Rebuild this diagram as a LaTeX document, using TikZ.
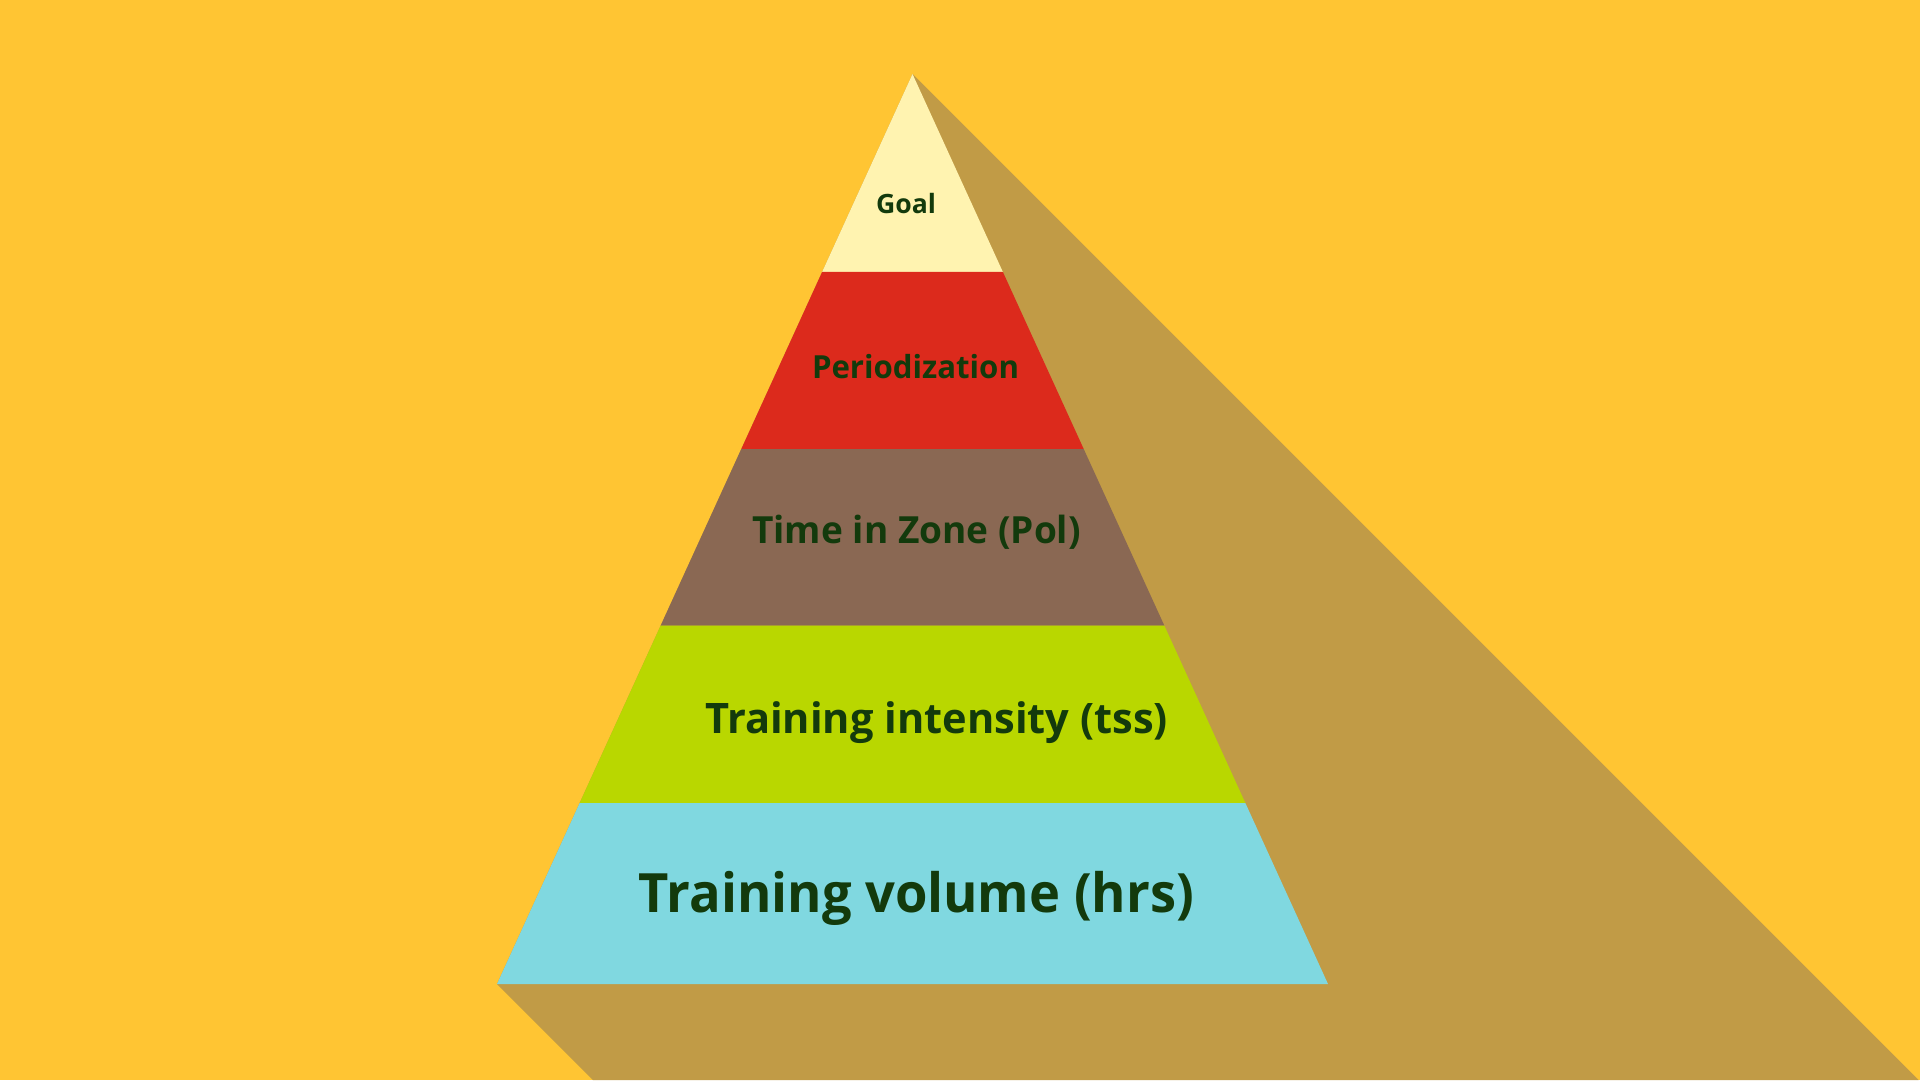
\documentclass[tikz,border=0pt]{standalone}
\usepackage{fontspec}
\setmainfont{Open Sans}
\usetikzlibrary{calc}
\definecolor{bg}{HTML}{FFC533}
\definecolor{shadowc}{HTML}{C19B46}
\definecolor{goalc}{HTML}{FFF3B0}
\definecolor{redc}{HTML}{DC2A1C}
\definecolor{brownc}{HTML}{8A6853}
\definecolor{greenc}{HTML}{B9D700}
\definecolor{cyanc}{HTML}{80D8E0}
\definecolor{txt}{HTML}{133A0C}
\tikzset{
  lbl/.style={anchor=base, inner sep=0pt, text=txt, font=\bfseries}
}
\begin{document}
\begin{tikzpicture}[x=1pt,y=-1pt]
\useasboundingbox (0,0) rectangle (1920,1080);
\fill[bg] (0,0) rectangle (1920,1080);
\coordinate (A) at (912.5,74);
\coordinate (BL) at (497,984);
\coordinate (BR) at (1328,984);
\begin{scope}
\clip (0,0) rectangle (1920,1080);
\fill[shadowc] (A) -- (1918.5,1080) -- (593,1080) -- (BL) -- cycle;
\end{scope}
\coordinate (L1) at ($(A)!0.2173!(BL)$);
\coordinate (R1) at ($(A)!0.2173!(BR)$);
\coordinate (L2) at ($(A)!0.4121!(BL)$);
\coordinate (R2) at ($(A)!0.4121!(BR)$);
\coordinate (L3) at ($(A)!0.6063!(BL)$);
\coordinate (R3) at ($(A)!0.6063!(BR)$);
\coordinate (L4) at ($(A)!0.8011!(BL)$);
\coordinate (R4) at ($(A)!0.8011!(BR)$);
\fill[goalc] (A) -- (R1) -- (L1) -- cycle;
\fill[redc] (L1) -- (R1) -- (R2) -- (L2) -- cycle;
\fill[brownc] (L2) -- (R2) -- (R3) -- (L3) -- cycle;
\fill[greenc] (L3) -- (R3) -- (R4) -- (L4) -- cycle;
\fill[cyanc] (L4) -- (R4) -- (BR) -- (BL) -- cycle;
\node[lbl, font=\bfseries\fontsize{26.6}{30}\selectfont] (goal) at (906,213.5) {Goal};
\node[lbl, font=\bfseries\fontsize{31.8}{36}\selectfont] (period) at (915.5,378.5) {\scalebox{0.98}[1]{Periodization}};
\node[lbl, font=\bfseries\fontsize{37.4}{42}\selectfont] (zone) at (916.5,543.5) {\scalebox{0.99}[1]{Time in Zone (Pol)}};
\node[lbl, font=\bfseries\fontsize{42}{48}\selectfont] (intens) at (936.5,733.5) {\scalebox{0.99}[1]{Training intensity (tss)}};
\node[lbl, font=\bfseries\fontsize{54.2}{60}\selectfont] (volume) at (916.5,912.5) {\scalebox{0.968}[1]{Training volume (hrs)}};
\end{tikzpicture}
\end{document}
